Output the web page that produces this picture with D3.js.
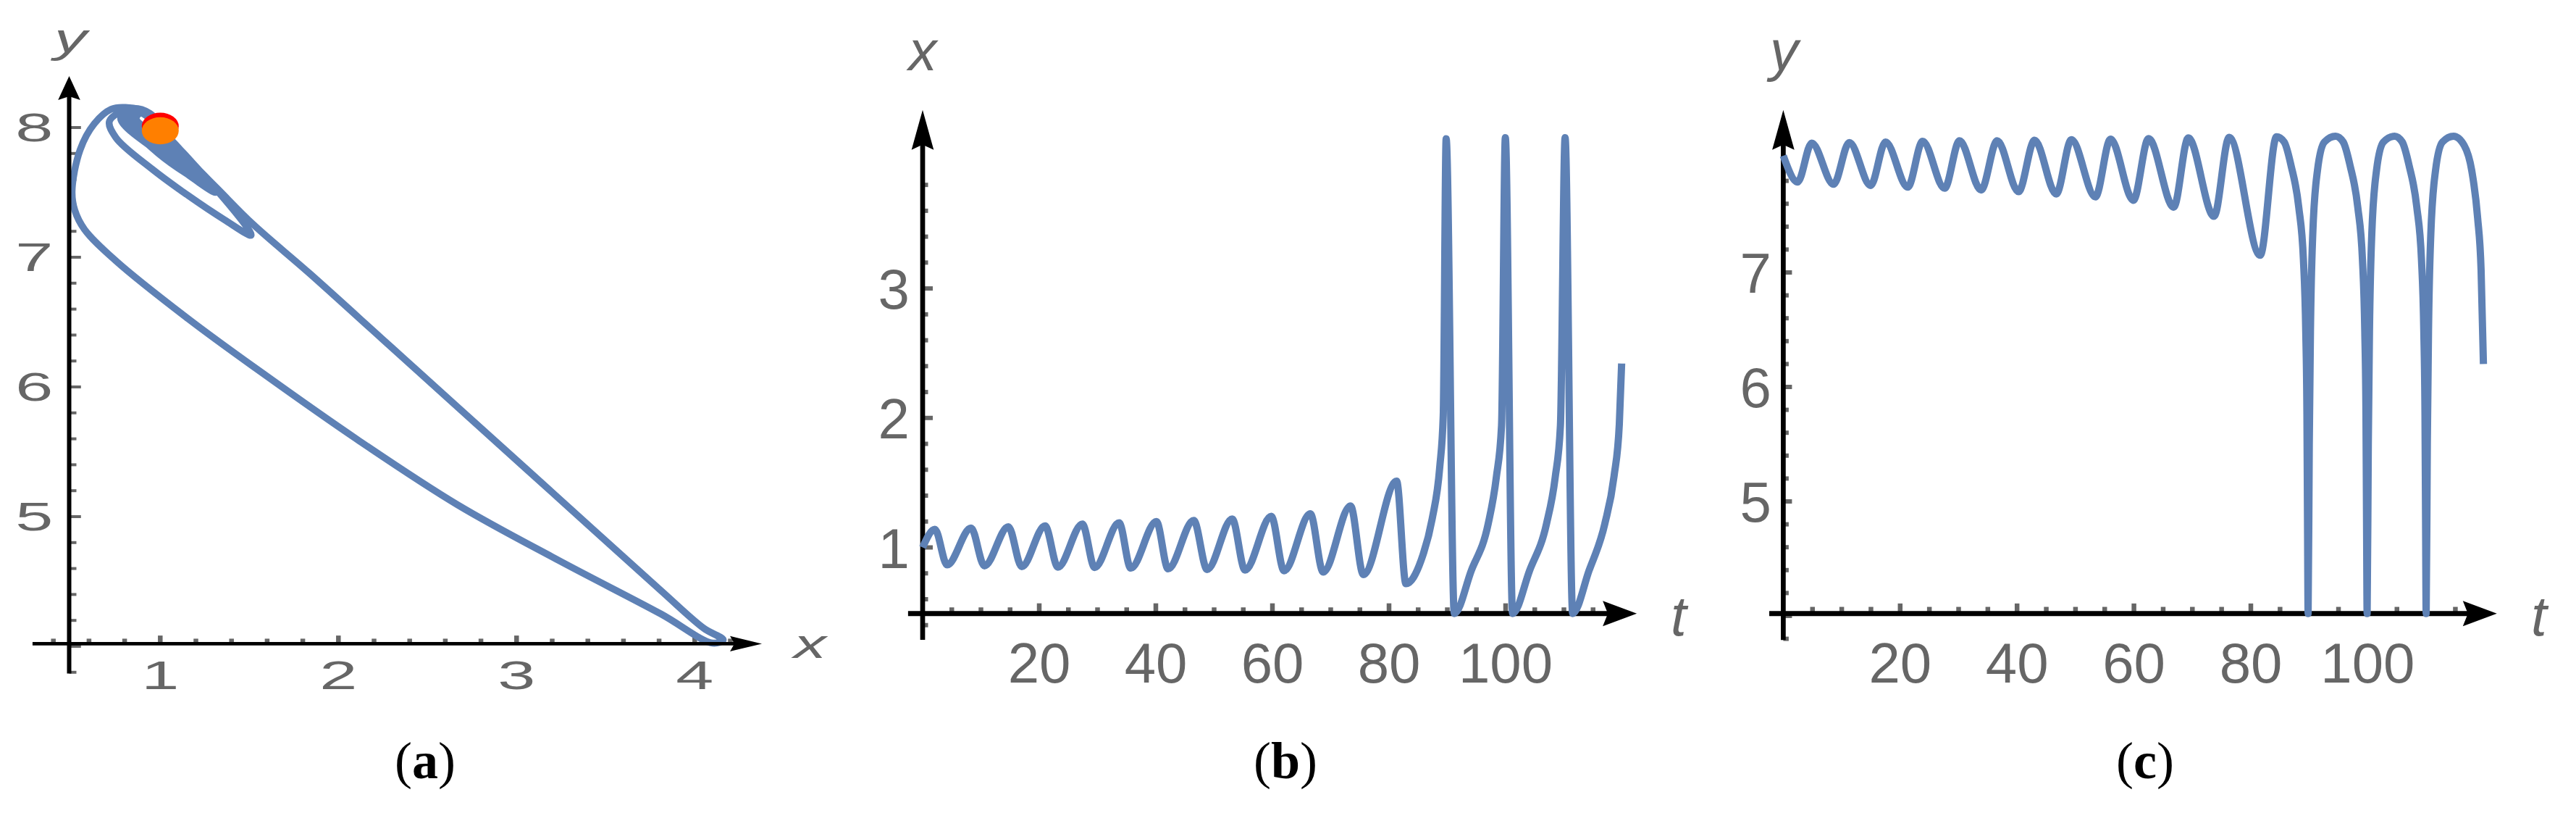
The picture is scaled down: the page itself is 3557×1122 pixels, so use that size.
<!DOCTYPE html>
<html><head><meta charset="utf-8">
<script src="https://cdn.jsdelivr.net/npm/d3@7"></script>
<style>body{margin:0;background:#fff}svg{display:block}</style>
</head><body>
<script>
// ---------------- DATA ----------------
// Panel (a): phase portrait (x, y), in drawing order
const phaseX = [
  1.0,
  1.14, 0.99, 0.865, 0.89, 1.02,
  1.15, 0.99, 0.858, 0.888, 1.025,
  1.16, 0.99, 0.852, 0.886, 1.03,
  1.17, 0.99, 0.848, 0.884, 1.035,
  1.18, 0.99, 0.845, 0.882, 1.04,
  1.19, 0.99, 0.84, 0.88, 1.045,
  1.20, 0.99, 0.835, 0.878, 1.05,
  1.21, 0.99, 0.83, 0.876, 1.055,
  1.22, 0.99, 0.825, 0.874, 1.06,
  1.24, 0.99, 0.82, 0.872, 1.07,
  1.26, 0.99, 0.805, 0.87, 1.08,
  1.31, 1.02, 0.778, 0.85, 1.10,
  1.51, 1.36, 1.157, 0.954, 0.751, 0.715, 0.83,
  0.94, 1.09, 1.333, 1.523, 1.835, 2.241, 2.67, 3.24, 3.81, 4.05, 4.155, 4.1, 3.81, 3.24, 2.67, 2.106, 1.564, 1.157, 0.751, 0.575, 0.52, 0.505, 0.55, 0.63, 0.724, 0.805,
  0.94, 1.09, 1.333, 1.523, 1.835, 2.241, 2.67, 3.24, 3.81, 4.05, 4.16, 4.1, 3.81, 3.24, 2.67, 2.106, 1.564, 1.157, 0.751, 0.575, 0.52, 0.505, 0.55, 0.63, 0.724, 0.805,
  0.94, 1.09, 1.333, 1.523, 1.835, 2.241, 2.67, 3.24, 3.81, 4.05, 4.16, 4.1, 3.81, 3.24, 2.67, 2.106, 1.564, 1.157, 0.751, 0.575, 0.52, 0.505, 0.55, 0.63, 0.724, 0.805,
  0.94, 1.09, 1.333, 1.523, 1.835, 2.241, 2.42
];
const phaseY = [
  7.975,
  7.78, 7.92, 8.07, 8.11, 7.96,
  7.76, 7.905, 8.07, 8.115, 7.955,
  7.745, 7.89, 8.075, 8.12, 7.945,
  7.73, 7.88, 8.075, 8.12, 7.937,
  7.715, 7.87, 8.08, 8.125, 7.93,
  7.70, 7.86, 8.08, 8.125, 7.922,
  7.685, 7.85, 8.08, 8.13, 7.915,
  7.665, 7.84, 8.08, 8.13, 7.908,
  7.645, 7.83, 8.08, 8.135, 7.90,
  7.615, 7.82, 8.08, 8.135, 7.885,
  7.565, 7.80, 8.08, 8.14, 7.87,
  7.50, 7.78, 8.07, 8.145, 7.845,
  7.17, 7.289, 7.475, 7.68, 7.922, 8.05, 8.145,
  8.11, 7.856, 7.512, 7.251, 6.879, 6.376, 5.844, 5.137, 4.43, 4.14, 4.05, 4.025, 4.25, 4.66, 5.09, 5.594, 6.116, 6.525, 6.972, 7.214, 7.363, 7.512, 7.828, 8.03, 8.141, 8.155,
  8.11, 7.856, 7.512, 7.251, 6.879, 6.376, 5.844, 5.137, 4.43, 4.14, 4.05, 4.025, 4.25, 4.66, 5.09, 5.594, 6.116, 6.525, 6.972, 7.214, 7.363, 7.512, 7.828, 8.03, 8.141, 8.155,
  8.11, 7.856, 7.512, 7.251, 6.879, 6.376, 5.844, 5.137, 4.43, 4.14, 4.05, 4.025, 4.25, 4.66, 5.09, 5.594, 6.116, 6.525, 6.972, 7.214, 7.363, 7.512, 7.828, 8.03, 8.141, 8.155,
  8.11, 7.856, 7.512, 7.251, 6.879, 6.376, 6.154
];
const equilibriumPoint = [1.0, 8.01];   // red
const initialPoint = [1.0, 7.975];      // orange

// Panel (b): x(t)
const tX = [0, 2.1, 4.2, 8.3, 10.6, 14.7, 17.0, 21.0, 23.2, 27.4, 29.5, 33.7, 35.7, 40.1, 42.1, 46.5, 48.8, 53.1, 55.3, 59.8, 62.0, 66.5, 68.7, 73.4, 75.6, 81.3, 82.9,
  85.5, 87.4, 88.7, 89.3, 89.8, 91.2, 94.1, 97.0, 98.4, 99.3, 99.95, 101.2, 104.1, 107.0, 108.5, 109.4, 110.2, 111.5, 114.3, 117.0, 118.6, 119.5, 119.9];
const xVals = [1.0, 1.14, 0.865, 1.15, 0.858, 1.16, 0.852, 1.167, 0.848, 1.18, 0.845, 1.19, 0.84, 1.2, 0.835, 1.208, 0.83, 1.22, 0.825, 1.24, 0.82, 1.26, 0.81, 1.32, 0.79, 1.512, 0.72,
  0.9, 1.22, 1.62, 2.02, 4.156, 0.49, 0.82, 1.18, 1.54, 1.94, 4.164, 0.49, 0.82, 1.18, 1.54, 1.94, 4.164, 0.49, 0.82, 1.18, 1.55, 1.95, 2.42];

// Panel (c): y(t)
const tY = [0, 2.45, 4.87, 8.6, 11.3, 14.95, 17.5, 21.3, 23.85, 27.6, 30.15, 33.85, 36.6, 40.25, 43.0, 46.7, 49.3, 53.4, 56.0, 59.9, 62.5, 66.8, 69.3, 73.7, 76.3, 81.6, 84.4,
  85.7, 86.9, 88.2, 89.0, 89.4, 89.6, 89.7, 89.8, 90.0, 90.2, 90.6, 91.4, 92.6, 94.5,
  95.8, 97.0, 98.3, 99.1, 99.5, 99.7, 99.8, 99.9, 100.1, 100.3, 100.7, 101.5, 102.7, 104.6,
  105.9, 107.1, 108.4, 109.2, 109.6, 109.8, 109.9, 110.0, 110.2, 110.4, 110.8, 111.6, 112.8, 114.7,
  116.5, 117.8, 118.8, 119.4, 119.8];
const yVals = [8.02, 7.79, 8.13, 7.77, 8.135, 7.76, 8.14, 7.745, 8.145, 7.735, 8.15, 7.72, 8.15, 7.705, 8.155, 7.685, 8.16, 7.66, 8.165, 7.63, 8.17, 7.57, 8.175, 7.49, 8.18, 7.15, 8.185,
  8.14, 7.93, 7.57, 7.11, 6.48, 5.75, 4.84, 4.02, 5.5, 6.48, 7.34, 7.89, 8.14, 8.19,
  8.14, 7.93, 7.57, 7.11, 6.48, 5.75, 4.84, 4.02, 5.5, 6.48, 7.34, 7.89, 8.14, 8.19,
  8.14, 7.93, 7.57, 7.11, 6.48, 5.75, 4.84, 4.02, 5.5, 6.48, 7.34, 7.89, 8.14, 8.19,
  8.11, 7.89, 7.48, 7.02, 6.2];

// tick labels
const xTicksA = [1, 2, 3, 4];
const yTicksA = [5, 6, 7, 8];
const tTicks = [20, 40, 60, 80, 100];
const xTicksB = [1, 2, 3];
const yTicksC = [5, 6, 7];
const captionLetters = ["a", "b", "c"];
const axisNames = {a: ["x", "y"], b: ["t", "x"], c: ["t", "y"]};

// ---------------- DRAWING ----------------
const W = 3557, H = 1122;
const GRAY = "#666666", BLUE = "#5E81B5";
const NUM_FONT = "'Liberation Sans Narrow','Liberation Sans',Arial,sans-serif";
const CAP_FONT = "'Liberation Serif','DejaVu Serif',serif";

const svg = d3.select("body").append("svg").attr("width", W).attr("height", H);
svg.append("rect").attr("width", W).attr("height", H).attr("fill", "#fff");

function arrowUp(g, x, tip, len, hw, notch) {
  g.append("path").attr("d", `M${x},${tip}L${x + hw},${tip + len}L${x},${tip + len - notch}L${x - hw},${tip + len}Z`).attr("fill", "#000");
}
function arrowRight(g, y, tip, len, hh, notch) {
  g.append("path").attr("d", `M${tip},${y}L${tip - len},${y - hh}L${tip - len + notch},${y}L${tip - len},${y + hh}Z`).attr("fill", "#000");
}
function hTicks(g, scale, axisY, vals, isMajor, majLen, minLen, w) {
  g.selectAll(null).data(vals).enter().append("line")
    .attr("x1", d => scale(d)).attr("x2", d => scale(d))
    .attr("y1", axisY).attr("y2", d => axisY - (isMajor(d) ? majLen : minLen))
    .attr("stroke", GRAY).attr("stroke-width", w);
}
function vTicks(g, scale, axisX, vals, isMajor, majLen, minLen, w) {
  g.selectAll(null).data(vals).enter().append("line")
    .attr("y1", d => scale(d)).attr("y2", d => scale(d))
    .attr("x1", axisX).attr("x2", d => axisX + (isMajor(d) ? majLen : minLen))
    .attr("stroke", GRAY).attr("stroke-width", w);
}
const isInt = v => Math.abs(v - Math.round(v)) < 1e-6;

function label(g, x, y, txt, anchor, sx, sy, italic) {
  g.append("text").attr("transform", `translate(${x},${y}) scale(${sx},${sy})`)
    .attr("text-anchor", anchor).attr("fill", GRAY)
    .style("font-family", NUM_FONT).style("font-size", "78px")
    .style("font-style", italic ? "italic" : "normal").text(txt);
}
function caption(x, letter) {
  const t = svg.append("text").attr("x", x).attr("y", 1074).attr("text-anchor", "middle")
    .style("font-family", CAP_FONT).style("font-size", "72px").attr("fill", "#000");
  t.append("tspan").text("(");
  t.append("tspan").style("font-weight", "bold").text(letter);
  t.append("tspan").text(")");
}

// ===== Panel (a) =====
{
  const g = svg.append("g");
  const xA = d3.scaleLinear().domain([1, 4]).range([221.3, 959.3]);
  const yA = d3.scaleLinear().domain([4, 8]).range([892, 176]);
  const ax = xA(0.4886), ay = yA(4.02);
  const xTickVals = d3.range(2, 22).map(i => i / 5);
  const yTickVals = d3.range(19, 41).map(i => i / 5);
  hTicks(g, xA, ay, xTickVals, isInt, 11.3, 7, 6.5);
  vTicks(g, yA, ax, yTickVals, isInt, 16.3, 10, 4);

  const pts = phaseX.map((x, i) => [x, phaseY[i]]);
  const line = d3.line().x(d => xA(d[0])).y(d => yA(d[1])).curve(d3.curveCatmullRom.alpha(0.5));
  g.append("path").attr("d", line(pts)).attr("fill", "none").attr("stroke", BLUE)
    .attr("stroke-width", 9.5).attr("stroke-linejoin", "round");

  // axes
  g.append("line").attr("x1", xA(0.283)).attr("x2", xA(4.377) - 30).attr("y1", ay).attr("y2", ay).attr("stroke", "#000").attr("stroke-width", 4.7);
  g.append("line").attr("x1", ax).attr("x2", ax).attr("y1", yA(3.79)).attr("y2", yA(8.397) + 20).attr("stroke", "#000").attr("stroke-width", 6);
  arrowUp(g, ax, yA(8.397), 33, 15.3, 5);
  arrowRight(g, ay, xA(4.377), 44, 10.6, 6);

  xTicksA.forEach(v => label(g, xA(v), 951, v, "middle", 1.2, 0.72, false));
  yTicksA.forEach(v => label(g, 73.3, yA(v) + 19, v, "end", 1.2, 0.72, false));
  label(g, 97.5, 72, axisNames.a[1], "middle", 1.15, 0.745, true);
  label(g, 1096, 908, axisNames.a[0], "start", 1.15, 0.745, true);

  g.append("ellipse").attr("cx", xA(equilibriumPoint[0])).attr("cy", yA(equilibriumPoint[1])).attr("rx", 25.5).attr("ry", 18.7).attr("fill", "#FF0000");
  g.append("ellipse").attr("cx", xA(initialPoint[0])).attr("cy", yA(initialPoint[1])).attr("rx", 25.5).attr("ry", 18.7).attr("fill", "#FF7F00");
  caption(587, captionLetters[0]);
}

// ===== Panel (b) =====
{
  const g = svg.append("g");
  const tB = d3.scaleLinear().domain([0, 100]).range([1274, 2079]);
  const yB = d3.scaleLinear().domain([1, 3]).range([755.5, 398.1]);
  const ax = tB(0), ay = yB(0.49);
  hTicks(g, tB, ay, d3.range(1, 24).map(i => i * 5), d => d % 20 === 0, 14, 8.4, 6.5);
  vTicks(g, yB, ax, d3.range(2, 20).map(i => i / 5), isInt, 14, 7.5, 6);
  g.append("line").attr("x1", tB(-2.5)).attr("x2", tB(122.5) - 30).attr("y1", ay).attr("y2", ay).attr("stroke", "#000").attr("stroke-width", 7);
  g.append("line").attr("x1", ax).attr("x2", ax).attr("y1", yB(0.287)).attr("y2", yB(4.379) + 30).attr("stroke", "#000").attr("stroke-width", 6.7);
  arrowUp(g, ax, yB(4.379), 55, 15.3, 7);
  arrowRight(g, ay, tB(122.5), 47, 17.5, 7);

  const pts = tX.map((t, i) => [t, xVals[i]]);
  const line = d3.line().x(d => tB(d[0])).y(d => yB(d[1])).curve(d3.curveMonotoneX);
  g.append("path").attr("d", line(pts)).attr("fill", "none").attr("stroke", BLUE)
    .attr("stroke-width", 10).attr("stroke-linejoin", "round");

  tTicks.forEach(v => label(g, tB(v), 942, v, "middle", 1, 1, false));
  xTicksB.forEach(v => label(g, 1256, yB(v) + 28, v, "end", 1, 1, false));
  label(g, ax, 96.7, axisNames.b[1], "middle", 1, 1, true);
  label(g, 2307, 877, axisNames.b[0], "start", 1, 1, true);
  caption(1775, captionLetters[1]);
}

// ===== Panel (c) =====
{
  const g = svg.append("g");
  const tC = d3.scaleLinear().domain([0, 100]).range([2462.4, 3269.4]);
  const yC = d3.scaleLinear().domain([4, 7]).range([850, 376]);
  const ax = tC(0), ay = yC(4.02);
  hTicks(g, tC, ay, d3.range(1, 24).map(i => i * 5), d => d % 20 === 0, 14, 9.3, 6.5);
  vTicks(g, yC, ax, d3.range(19, 40).map(i => i / 5), isInt, 12, 7.5, 6);
  g.append("line").attr("x1", tC(-2.4)).attr("x2", tC(122.1) - 30).attr("y1", ay).attr("y2", ay).attr("stroke", "#000").attr("stroke-width", 7);
  g.append("line").attr("x1", ax).attr("x2", ax).attr("y1", yC(3.79)).attr("y2", yC(8.42) + 30).attr("stroke", "#000").attr("stroke-width", 6.7);
  arrowUp(g, ax, yC(8.42), 55, 15.3, 7);
  arrowRight(g, ay, tC(122.1), 47, 17.5, 7);

  const pts = tY.map((t, i) => [t, yVals[i]]);
  const line = d3.line().x(d => tC(d[0])).y(d => yC(d[1])).curve(d3.curveMonotoneX);
  g.append("path").attr("d", line(pts)).attr("fill", "none").attr("stroke", BLUE)
    .attr("stroke-width", 10).attr("stroke-linejoin", "round");

  tTicks.forEach(v => label(g, tC(v), 942, v, "middle", 1, 1, false));
  yTicksC.forEach(v => label(g, 2446, yC(v) + 28, v, "end", 1, 1, false));
  label(g, ax + 1, 96.7, axisNames.c[1], "middle", 1, 1, true);
  label(g, 3495, 877, axisNames.c[0], "start", 1, 1, true);
  caption(2962, captionLetters[2]);
}
</script>
</body></html>
